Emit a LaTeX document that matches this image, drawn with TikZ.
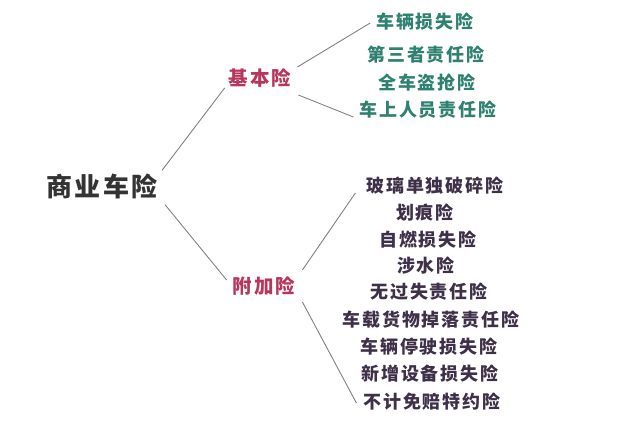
\documentclass[tikz,border=0pt]{standalone}
\usepackage{fontspec}
\newfontfamily\cjk{Noto Sans CJK SC}[LetterSpace=10]
\definecolor{gris}{HTML}{333333}
\definecolor{rosa}{HTML}{B8365C}
\definecolor{verde}{HTML}{2E8070}
\definecolor{morado}{HTML}{3E3048}
\definecolor{linea}{HTML}{808080}
\begin{document}
\begin{tikzpicture}[x=1pt,y=-1pt,
    raiz/.style={font=\cjk\bfseries\fontsize{26}{29}\selectfont, text=gris, inner sep=1pt},
    rama/.style={font=\cjk\bfseries\fontsize{19.5}{22}\selectfont, text=rosa, inner sep=1pt},
    basico/.style={font=\cjk\bfseries\fontsize{18}{21}\selectfont, text=verde, inner sep=1pt},
    extra/.style={font=\cjk\bfseries\fontsize{18}{21}\selectfont, text=morado, inner sep=1pt},
    enlace/.style={draw=linea, line width=0.9pt}]
        % Marco
        \useasboundingbox (0,0) rectangle (640,425);

        % Nodo central
        \node[raiz] (raiz) at (102,186) {商业车险};

        % Ramas
        \node[rama] (basicos) at (260,78) {基本险};
        \node[rama] (adicionales) at (264,286) {附加险};

        % Seguros basicos
        \node[basico] (b1) at (425,22) {车辆损失险};
        \node[basico] (b2) at (426,55) {第三者责任险};
        \node[basico] (b3) at (427,83) {全车盗抢险};
        \node[basico] (b4) at (428,110) {车上人员责任险};

        % Seguros adicionales
        \node[extra] (a1) at (435,186) {玻璃单独破碎险};
        \node[extra] (a2) at (425,213) {划痕险};
        \node[extra] (a3) at (428,240) {自燃损失险};
        \node[extra] (a4) at (426,266) {涉水险};
        \node[extra] (a5) at (429,292) {无过失责任险};
        \node[extra] (a6) at (431,320) {车载货物掉落责任险};
        \node[extra] (a7) at (429,347) {车辆停驶损失险};
        \node[extra] (a8) at (430,374) {新增设备损失险};
        \node[extra] (a9) at (432,402) {不计免赔特约险};

        % Lineas
        \draw[enlace] ([shift={(3,-2)}]raiz.north east) -- ([shift={(-3,10)}]basicos.west);
        \draw[enlace] ([shift={(6,5)}]raiz.south east) -- ([shift={(-5,-6)}]adicionales.west);
        \draw[enlace] ([shift={(5,-11)}]basicos.east) -- ([shift={(-5,1)}]b1.west);
        \draw[enlace] ([shift={(6,17)}]basicos.east) -- ([shift={(-5,7)}]b4.west);
        \draw[enlace] ([shift={(6,-16)}]adicionales.east) -- ([shift={(-10,7)}]a1.west);
        \draw[enlace] ([shift={(6,16)}]adicionales.east) -- ([shift={(-6,1)}]a9.west);
\end{tikzpicture}
\end{document}
